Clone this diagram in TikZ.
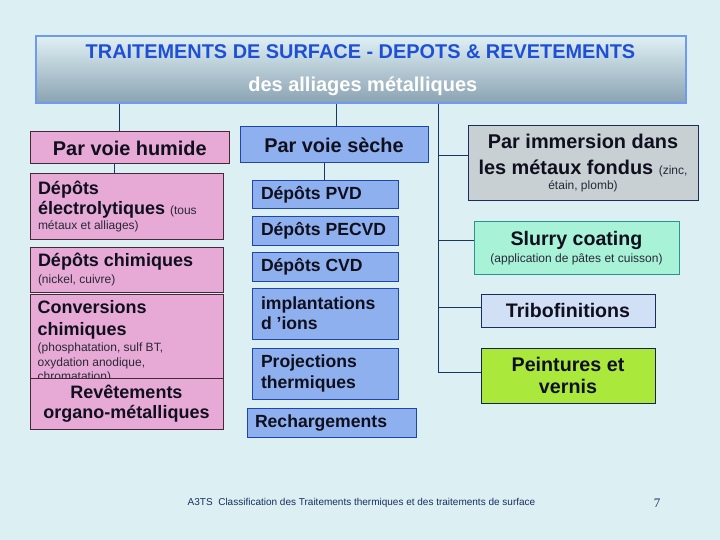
\documentclass[tikz,border=0pt]{standalone}
\usepackage{fontspec}
\setmainfont{Liberation Sans}
\newfontfamily\serifnum{Liberation Serif}
\newcommand{\myfs}[2]{\fontsize{#1}{#2}\selectfont}
\newcommand{\ns}{\spaceskip=0pt\xspaceskip=0pt\relax}
\definecolor{bg}{RGB}{220,240,243}
\definecolor{pinkf}{RGB}{231,170,214}
\definecolor{pinkd}{RGB}{70,40,55}
\definecolor{bluef}{RGB}{143,176,238}
\definecolor{blued}{RGB}{30,70,170}
\definecolor{grayf}{RGB}{200,208,212}
\definecolor{navy}{RGB}{25,45,95}
\definecolor{mintf}{RGB}{168,242,216}
\definecolor{mintd}{RGB}{40,150,140}
\definecolor{tribof}{RGB}{210,224,246}
\definecolor{limef}{RGB}{170,232,60}
\definecolor{txt}{RGB}{15,15,30}
\definecolor{titleblue}{RGB}{30,80,215}
\definecolor{titlebd}{RGB}{110,155,240}
\definecolor{titletop}{RGB}{224,241,245}
\definecolor{titlebot}{RGB}{138,162,178}
\definecolor{conn}{RGB}{25,55,100}
\definecolor{smalltxt}{RGB}{40,40,55}
\tikzset{
  box/.style={draw, line width=1pt, inner sep=0pt, text=txt, font=\bfseries},
  pinkbox/.style={box, draw=pinkd, fill=pinkf},
  bluebox/.style={box, draw=blued, fill=bluef},
  conn/.style={draw=conn, line width=1pt}
}
\newcommand{\smalltext}[1]{{\mdseries\myfs{12}{14}\ns\color{smalltxt}#1}}
\begin{document}
\begin{tikzpicture}[x=1pt,y=-1pt]
\fill[bg] (0,0) rectangle (720,540);
\useasboundingbox (0,0) rectangle (720,540);

% title
\node[draw=titlebd, line width=1.5pt, top color=titletop, bottom color=titlebot,
      minimum width=650pt, minimum height=67pt, inner sep=0pt] (title) at (361,69.5) {};
\node[anchor=base, font=\bfseries\myfs{19.9}{22}, text=titleblue, inner sep=0pt] (t1) at (360.5,58.3)
  {TRAITEMENTS DE SURFACE - DEPOTS \& REVETEMENTS};
\node[anchor=base, font=\bfseries\myfs{20}{22}, text=white, inner sep=0pt] (t2) at (362.8,91.5)
  {des alliages métalliques};

% first level
\node[pinkbox, minimum width=199.6pt, minimum height=32pt, font=\bfseries\myfs{19.9}{22}] (humide) at (129.8,148) {Par voie humide};
\node[bluebox, minimum width=188pt, minimum height=36pt, font=\bfseries\myfs{19.9}{22}] (seche) at (334,145) {Par voie sèche};

% right column
\node[box, draw=navy, fill=grayf, minimum width=230pt, minimum height=75pt, align=center,
      font=\bfseries\myfs{19.9}{26}] (imm) at (583,163.5)
  {\ns Par immersion dans\\ les métaux fondus \smalltext{(zinc,}\\[-11pt] \smalltext{étain, plomb)}};
\node[box, draw=mintd, fill=mintf, minimum width=205pt, minimum height=52pt, align=center,
      font=\bfseries\myfs{19.6}{24}] (slurry) at (576.5,248)
  {\ns Slurry coating\\[-7pt] \smalltext{(application de pâtes et cuisson)}};
\node[box, draw=navy, fill=tribof, minimum width=174pt, minimum height=33pt,
      font=\bfseries\myfs{19.6}{22}] (tribo) at (568,310.5) {Tribofinitions};
\node[box, draw=navy!80!black, fill=limef, minimum width=174pt, minimum height=55pt, align=center,
      font=\bfseries\myfs{19.7}{21.7}] (peint) at (568,375.5) {\ns Peintures et\\ vernis};

% left column
\node[pinkbox, minimum width=193pt, minimum height=65pt, text width=177pt, inner xsep=8pt, align=left,
      font=\bfseries\myfs{18}{20}] (elec) at (126.5,206.5)
  {\ns Dépôts\\ électrolytiques \smalltext{(tous}\\[-4.5pt] \smalltext{métaux et alliages)}};
\node[pinkbox, minimum width=193pt, minimum height=45pt, text width=177pt, inner xsep=8pt, align=left,
      font=\bfseries\myfs{18}{20}] (chim) at (126.5,269.5)
  {\ns Dépôts chimiques\\[-3.5pt] \smalltext{(nickel, cuivre)}};
\node[pinkbox, minimum width=193pt, minimum height=84pt] (conv) at (126.5,336) {};
\node[anchor=north west, inner sep=0pt, text width=177pt, align=left, text=txt,
      font=\bfseries\myfs{18}{21.5}] (convtext) at ([xshift=8pt,yshift=-7pt]conv.north west)
  {\ns Conversions\\ chimiques\\[-5.3pt] \smalltext{(phosphatation, sulf BT,}\\[-6.8pt]
   \smalltext{oxydation anodique,}\\[-7.2pt] \smalltext{chromatation)}};
\node[pinkbox, minimum width=193pt, minimum height=51pt, align=center,
      font=\bfseries\myfs{18}{20.5}] (rev) at (126.5,403.5) {\ns Revêtements\\ organo-métalliques};

% middle column
\node[bluebox, minimum width=146pt, minimum height=28pt, text width=128pt, inner xsep=9pt, align=left,
      font=\bfseries\myfs{17.6}{20.5}] (pvd) at (325,195) {\ns Dépôts PVD};
\node[bluebox, minimum width=146pt, minimum height=28pt, text width=128pt, inner xsep=9pt, align=left,
      font=\bfseries\myfs{17.6}{20.5}] (pecvd) at (325,231) {\ns Dépôts PECVD};
\node[bluebox, minimum width=146pt, minimum height=29pt, text width=128pt, inner xsep=9pt, align=left,
      font=\bfseries\myfs{17.6}{20.5}] (cvd) at (325,266.5) {\ns Dépôts CVD};
\node[bluebox, minimum width=146pt, minimum height=51pt, text width=128pt, inner xsep=9pt, align=left,
      font=\bfseries\myfs{17.6}{20}] (impl) at (325,313.5) {\ns implantations\\ d 'ions};
\node[bluebox, minimum width=146pt, minimum height=51pt, text width=128pt, inner xsep=9pt, align=left,
      font=\bfseries\myfs{17.6}{21}] (proj) at (325,373.5) {\ns Projections\\ thermiques};
\node[bluebox, minimum width=169pt, minimum height=29pt, text width=153pt, inner xsep=8pt, align=left,
      font=\bfseries\myfs{17.6}{20.5}] (rech) at (331.5,422.5) {\ns Rechargements};

% connectors
\draw[conn] ([xshift=-10pt]humide.north) -- ([xshift=-10pt]humide.north |- title.south);
\draw[conn] ([xshift=2.5pt]seche.north) -- ([xshift=2.5pt]seche.north |- title.south);
\draw[conn] ([xshift=-15pt]humide.south) -- ([xshift=-15pt]humide.south |- elec.north);
\draw[conn] ([xshift=-10pt]seche.south) -- ([xshift=-10pt]seche.south |- pvd.north);
\coordinate (trunk) at ([xshift=77.5pt]title.south);
\draw[conn] (trunk) |- ([yshift=3.5pt]peint.west);
\draw[conn] ([yshift=7.5pt]imm.west) -- ([yshift=7.5pt]imm.west -| trunk);
\draw[conn] ([yshift=8pt]slurry.west) -- ([yshift=8pt]slurry.west -| trunk);
\draw[conn] ([yshift=3.5pt]tribo.west) -- ([yshift=3.5pt]tribo.west -| trunk);

% footer
\node[anchor=base, inner sep=0pt, font=\myfs{10}{12}, text=navy] (foot) at (361.5,505)
  {A3TS\ \ Classification des Traitements thermiques et des traitements de surface};
\node[anchor=base, inner sep=0pt, font=\serifnum\myfs{13}{15}, text=navy] (page) at (657,507.7) {7};
\end{tikzpicture}
\end{document}
